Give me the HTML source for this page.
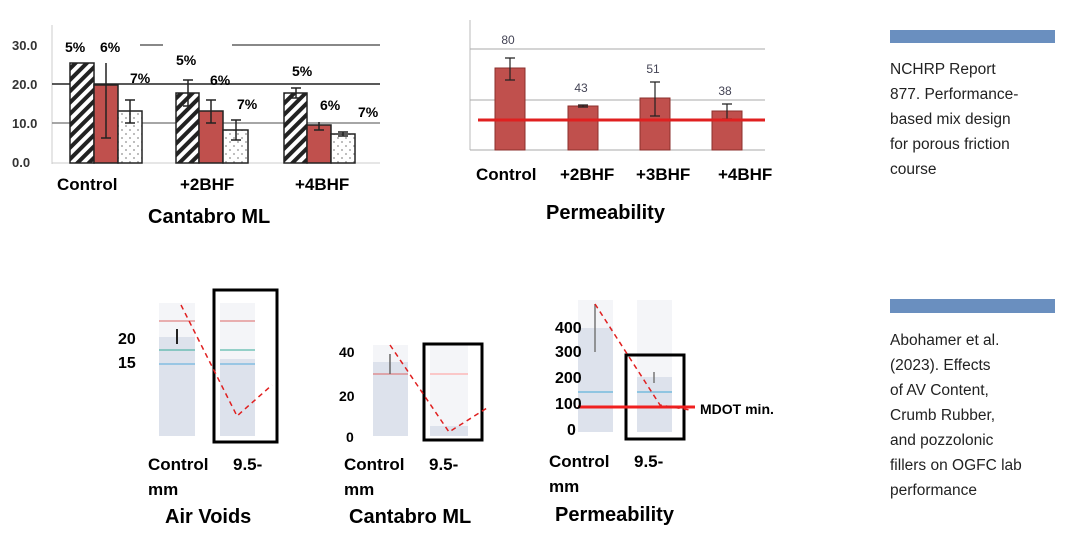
<!DOCTYPE html><html><head><style>body{margin:0;background:#fff}svg{display:block}text{font-family:"Liberation Sans",Arial,sans-serif}</style></head><body>
<svg width="1074" height="535" viewBox="0 0 1074 535">
<defs>
<pattern id="h" width="8" height="8" patternUnits="userSpaceOnUse" patternTransform="rotate(45)"><rect width="8" height="8" fill="#fff"/><rect width="4" height="8" fill="#222"/></pattern>
<pattern id="d" width="8" height="8" patternUnits="userSpaceOnUse"><rect width="8" height="8" fill="#fff"/><circle cx="2" cy="2" r="1" fill="#aaa"/><circle cx="6" cy="6" r="1" fill="#aaa"/></pattern>
</defs>
<!-- top-left -->
<g font-weight="bold" font-size="13" fill="#333">
<text x="12" y="50">30.0</text><text x="12" y="89">20.0</text><text x="12" y="128">10.0</text><text x="12" y="167">0.0</text></g>
<line x1="52" y1="25" x2="52" y2="164" stroke="#ccc"/>
<line x1="52" y1="163" x2="380" y2="163" stroke="#ccc"/>
<line x1="140" y1="45" x2="163" y2="45" stroke="#888" stroke-width="2"/><line x1="232" y1="45" x2="380" y2="45" stroke="#888" stroke-width="2"/>
<line x1="52" y1="84" x2="380" y2="84" stroke="#222" stroke-width="1.5"/>
<line x1="52" y1="123" x2="380" y2="123" stroke="#888" stroke-width="1.5"/>
<g stroke="#222" stroke-width="1.5">
<rect x="70" y="63" width="24" height="100" fill="url(#h)"/><rect x="94" y="85" width="24" height="78" fill="#c0504d"/><rect x="118" y="111" width="24" height="52" fill="url(#d)"/>
<rect x="176" y="93" width="23" height="70" fill="url(#h)"/><rect x="199" y="111" width="24" height="52" fill="#c0504d"/><rect x="223" y="130" width="25" height="33" fill="url(#d)"/>
<rect x="284" y="93" width="23" height="70" fill="url(#h)"/><rect x="307" y="125" width="24" height="38" fill="#c0504d"/><rect x="331" y="134" width="24" height="29" fill="url(#d)"/>
<path d="M106 63V138M101 138h10M130 100V123M125 100h10M125 123h10M188 80V106M183 80h10M183 106h10M211 100V123M206 100h10M206 123h10M236 120V140M231 120h10M231 140h10M296 88V98M291 88h10M291 98h10M319 122V130M314 130h10M343 132V136M338 132h10M338 136h10" fill="none"/></g>
<g font-weight="bold" font-size="14"><text x="65" y="52">5%</text><text x="100" y="52">6%</text><text x="130" y="83">7%</text><text x="176" y="65">5%</text><text x="210" y="85">6%</text><text x="237" y="109">7%</text><text x="292" y="76">5%</text><text x="320" y="110">6%</text><text x="358" y="117">7%</text></g>
<g font-weight="bold" font-size="17"><text x="57" y="190">Control</text><text x="180" y="190">+2BHF</text><text x="295" y="190">+4BHF</text><text x="148" y="223" font-size="20">Cantabro ML</text></g>
<!-- permeability top -->
<line x1="470" y1="20" x2="470" y2="150" stroke="#bbb"/>
<g stroke="#aaa"><line x1="470" y1="49" x2="765" y2="49"/><line x1="470" y1="100" x2="765" y2="100"/><line x1="470" y1="150" x2="765" y2="150"/></g>
<g fill="#c0504d" stroke="#8b2f2c"><rect x="495" y="68" width="30" height="82"/><rect x="568" y="106" width="30" height="44"/><rect x="640" y="98" width="30" height="52"/><rect x="712" y="111" width="30" height="39"/></g>
<g stroke="#222" stroke-width="1.2" fill="none"><path d="M510 58V80M505 58h10M505 80h10M583 105v2M578 105h10M578 107h10M655 82V116M650 82h10M650 116h10M727 104V119M722 104h10M722 119h10"/></g>
<line x1="478" y1="120" x2="765" y2="120" stroke="#e02020" stroke-width="3"/>
<g font-size="12" fill="#445" text-anchor="middle"><text x="508" y="44">80</text><text x="581" y="92">43</text><text x="653" y="73">51</text><text x="725" y="95">38</text></g>
<g font-weight="bold" font-size="17"><text x="476" y="180">Control</text><text x="560" y="180">+2BHF</text><text x="636" y="180">+3BHF</text><text x="718" y="180">+4BHF</text><text x="546" y="219" font-size="20">Permeability</text></g>
<!-- right -->
<rect x="890" y="30" width="165" height="13" fill="#6a8fbf"/><rect x="890" y="299" width="165" height="14" fill="#6a8fbf"/>
<g font-size="15.5" fill="#222"><text x="890" y="74">NCHRP Report</text><text x="890" y="99">877. Performance-</text><text x="890" y="124">based mix design</text><text x="890" y="149">for porous friction</text><text x="890" y="174">course</text>
<text x="890" y="345">Abohamer et al.</text><text x="890" y="370">(2023). Effects</text><text x="890" y="395">of AV Content,</text><text x="890" y="420">Crumb Rubber,</text><text x="890" y="445">and pozzolonic</text><text x="890" y="470">fillers on OGFC lab</text><text x="890" y="495">performance</text></g>
<!-- bottom air voids -->
<rect x="159" y="303" width="36" height="133" fill="#f4f5f8"/><rect x="159" y="337" width="36" height="99" fill="#dde2ec"/>
<rect x="220" y="303" width="35" height="133" fill="#f4f5f8"/><rect x="220" y="359" width="35" height="77" fill="#dde2ec"/>
<g stroke-width="1"><line x1="159" y1="321" x2="195" y2="321" stroke="#d66"/><line x1="220" y1="321" x2="255" y2="321" stroke="#d66"/><line x1="159" y1="350" x2="195" y2="350" stroke="#3a9"/><line x1="220" y1="350" x2="255" y2="350" stroke="#3a9"/><line x1="159" y1="364" x2="195" y2="364" stroke="#5ad"/><line x1="220" y1="364" x2="255" y2="364" stroke="#5ad"/></g>
<line x1="177" y1="329" x2="177" y2="344" stroke="#222" stroke-width="2"/>
<rect x="214" y="290" width="63" height="152" fill="none" stroke="#000" stroke-width="3"/>
<path d="M181 305L237 416L272 385" fill="none" stroke="#e02020" stroke-width="1.5" stroke-dasharray="5,4"/>
<g font-weight="bold" font-size="16"><text x="118" y="344">20</text><text x="118" y="368">15</text></g>
<!-- cantabro bottom -->
<rect x="373" y="345" width="35" height="91" fill="#f4f5f8"/><rect x="373" y="362" width="35" height="74" fill="#dde2ec"/>
<rect x="430" y="345" width="38" height="91" fill="#f4f5f8"/><rect x="430" y="426" width="38" height="10" fill="#dde2ec"/>
<line x1="373" y1="374" x2="408" y2="374" stroke="#d66"/><line x1="430" y1="374" x2="468" y2="374" stroke="#f99"/>
<line x1="390" y1="354" x2="390" y2="374" stroke="#666" stroke-width="1.5"/>
<rect x="424" y="344" width="58" height="96" fill="none" stroke="#000" stroke-width="3"/>
<path d="M390 345L449 432L487 408" fill="none" stroke="#e02020" stroke-width="1.5" stroke-dasharray="5,4"/>
<g font-weight="bold" font-size="14"><text x="339" y="357">40</text><text x="339" y="401">20</text><text x="346" y="442">0</text></g>
<!-- perm bottom -->
<rect x="578" y="300" width="35" height="132" fill="#f4f5f8"/><rect x="578" y="328" width="35" height="104" fill="#dde2ec"/>
<rect x="637" y="300" width="35" height="132" fill="#f4f5f8"/><rect x="637" y="377" width="35" height="55" fill="#dde2ec"/>
<line x1="578" y1="392" x2="613" y2="392" stroke="#7bd" stroke-width="1.5"/><line x1="637" y1="392" x2="672" y2="392" stroke="#7bd" stroke-width="1.5"/>
<line x1="595" y1="304" x2="595" y2="352" stroke="#777" stroke-width="1.5"/><line x1="654" y1="372" x2="654" y2="383" stroke="#777" stroke-width="1.5"/>
<rect x="626" y="355" width="58" height="84" fill="none" stroke="#000" stroke-width="3"/>
<line x1="578" y1="407" x2="695" y2="407" stroke="#f02020" stroke-width="3"/>
<path d="M595 304L660 405L690 410" fill="none" stroke="#e02020" stroke-width="1.5" stroke-dasharray="5,4"/>
<g font-weight="bold" font-size="16"><text x="555" y="333">400</text><text x="555" y="357">300</text><text x="555" y="383">200</text><text x="555" y="409">100</text><text x="567" y="435">0</text><text x="700" y="414" font-size="14">MDOT min.</text></g>
<!-- bottom labels -->
<g font-weight="bold" font-size="17"><text x="148" y="470">Control</text><text x="233" y="470">9.5-</text><text x="148" y="495">mm</text>
<text x="344" y="470">Control</text><text x="429" y="470">9.5-</text><text x="344" y="495">mm</text>
<text x="549" y="467">Control</text><text x="634" y="467">9.5-</text><text x="549" y="492">mm</text>
<text x="165" y="523" font-size="20">Air Voids</text><text x="349" y="523" font-size="20">Cantabro ML</text><text x="555" y="521" font-size="20">Permeability</text></g>
</svg></body></html>
